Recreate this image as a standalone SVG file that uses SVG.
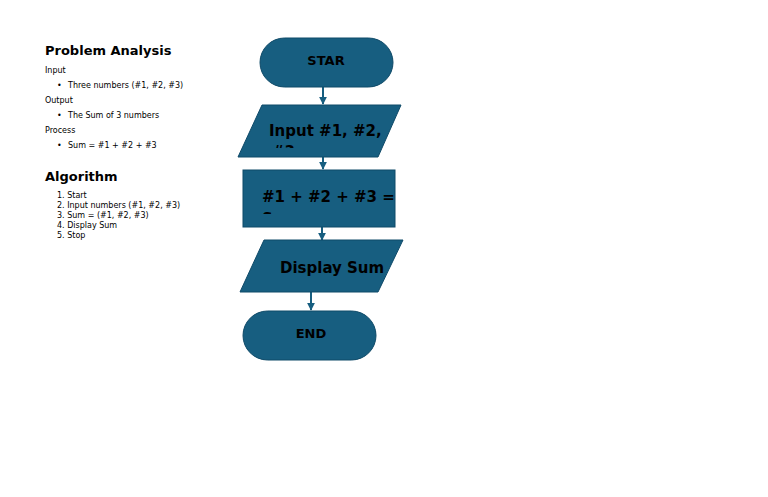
<svg xmlns="http://www.w3.org/2000/svg" width="768" height="497" viewBox="0 0 768 497">
<style>
.s{fill:#175e80;stroke:#0f4a68;stroke-width:1}
.t{font-family:"DejaVu Sans",sans-serif;font-weight:bold;fill:#000}
.h{font-family:"DejaVu Sans",sans-serif;font-weight:bold;font-size:13px;fill:#000}
.p{font-family:"DejaVu Sans",sans-serif;font-size:8px;fill:#000}
.c{stroke:#175e80;stroke-width:2;fill:none;marker-end:url(#a)}
</style>
<defs>
<marker id="a" viewBox="0 0 10 10" refX="9" refY="5" markerWidth="4" markerHeight="4" orient="auto"><path d="M0,0L10,5L0,10z" fill="#175e80"/></marker>
<clipPath id="c1"><rect x="238" y="105" width="170" height="43"/></clipPath>
<clipPath id="c2"><rect x="243" y="170" width="160" height="44"/></clipPath>
</defs>
<rect width="768" height="497" fill="#fff"/>
<g id="analysis">
<text class="h" x="45" y="55">Problem Analysis</text>
<text class="p" x="45" y="73">Input</text>
<text class="p" x="57" y="88">•</text><text class="p" x="68" y="88">Three numbers (#1, #2, #3)</text>
<text class="p" x="45" y="103">Output</text>
<text class="p" x="57" y="118">•</text><text class="p" x="68" y="118">The Sum of 3 numbers</text>
<text class="p" x="45" y="133">Process</text>
<text class="p" x="57" y="148">•</text><text class="p" x="68" y="148">Sum = #1 + #2 + #3</text>
<text class="h" x="45" y="181">Algorithm</text>
<text class="p" x="57" y="198">1.  Start</text>
<text class="p" x="57" y="208">2.  Input numbers (#1, #2, #3)</text>
<text class="p" x="57" y="218">3.  Sum = (#1, #2, #3)</text>
<text class="p" x="57" y="228">4.  Display Sum</text>
<text class="p" x="57" y="238">5.  Stop</text>
</g>
<g id="connectors">
<path class="c" d="M323,87V104"/>
<path class="c" d="M323,157V169"/>
<path class="c" d="M322,227V240"/>
<path class="c" d="M311,292V310"/>
</g>
<g id="start"><rect class="s" x="260" y="38" width="133" height="49" rx="24.5"/><text class="t" x="326" y="65" font-size="13" text-anchor="middle">STAR</text></g>
<g id="input"><polygon class="s" points="262,105 401,105 378,157 238,157"/><g clip-path="url(#c1)"><text class="t" x="269" y="136" font-size="15">Input #1, #2,</text><text class="t" x="272" y="157" font-size="15">#3</text></g></g>
<g id="process"><rect class="s" x="243" y="170" width="152" height="57"/><g clip-path="url(#c2)"><text class="t" x="262" y="202" font-size="15">#1 + #2 + #3 =</text><text class="t" x="262" y="224" font-size="15">Sum</text></g></g>
<g id="display"><polygon class="s" points="264,240 403,240 378,292 240,292"/><text class="t" x="280" y="273" font-size="15">Display Sum</text></g>
<g id="end"><rect class="s" x="243" y="311" width="133" height="49" rx="24.5"/><text class="t" x="311" y="338" font-size="13" text-anchor="middle">END</text></g>
</svg>
